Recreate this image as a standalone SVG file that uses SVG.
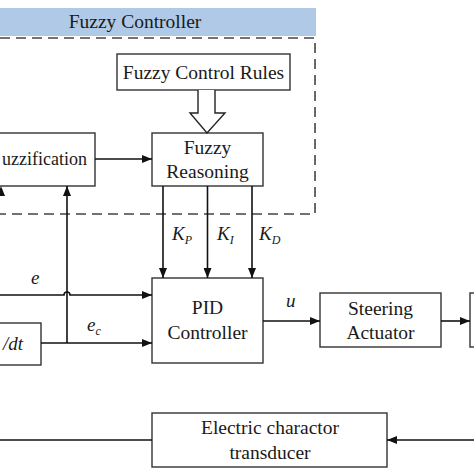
<svg xmlns="http://www.w3.org/2000/svg" width="474" height="474" viewBox="0 0 474 474">
<defs>
<style>
.box{fill:#fff;stroke:#333;stroke-width:1.4}
.ln{fill:none;stroke:#111;stroke-width:1.6}
.t{font-size:19.5px;fill:#1a1a1a;text-anchor:middle}
.it{font-style:italic;font-size:19px;fill:#1a1a1a}
.sub{font-size:12px}
.dash{fill:none;stroke:#444;stroke-width:1.6;stroke-dasharray:10 6}
</style>
<marker id="ah" markerWidth="10" markerHeight="8" refX="10" refY="4" orient="auto" markerUnits="userSpaceOnUse">
<path d="M0,0 L10,4 L0,8 Z" fill="#111"/>
</marker>
</defs>
<rect width="474" height="474" fill="#fff"/>
<g font-family="'Liberation Serif', 'Times New Roman', 'DejaVu Serif', serif">
<g id="fuzzy-controller">
<rect x="-1" y="8" width="317" height="28" fill="#afc9e6"/>
<text class="t" x="135" y="28">Fuzzy Controller</text>
<path class="dash" d="M0,38 H315 V214 H0"/>
</g>
<g id="rules">
<rect class="box" x="117" y="54" width="173" height="36"/>
<text class="t" x="203.5" y="79">Fuzzy Control Rules</text>
</g>
<g id="fuzzification">
<rect class="box" x="-5" y="133" width="100" height="53"/>
<text class="t" x="2" y="165" style="text-anchor:start;font-size:18px">uzzification</text>
</g>
<g id="reasoning">
<rect class="box" x="152" y="133" width="111" height="53"/>
<text class="t" x="207.5" y="154">Fuzzy</text>
<text class="t" x="207.5" y="178">Reasoning</text>
</g>
<g id="pid">
<rect class="box" x="152" y="278" width="111" height="85"/>
<text class="t" x="207.5" y="314">PID</text>
<text class="t" x="207.5" y="339">Controller</text>
</g>
<g id="ddt">
<rect class="box" x="-5" y="323" width="46" height="42"/>
<text class="it" x="3" y="350">/dt</text>
</g>
<g id="steering">
<rect class="box" x="320" y="293" width="121" height="54"/>
<text class="t" x="380.5" y="315">Steering</text>
<text class="t" x="380.5" y="339">Actuator</text>
</g>
<g id="vehicle">
<rect class="box" x="470" y="293" width="20" height="54"/>
</g>
<g id="transducer">
<rect class="box" x="152" y="413" width="235" height="54"/>
<text class="t" x="270" y="434">Electric charactor</text>
<text class="t" x="270" y="459">transducer</text>
</g>
<g id="connectors">
<path d="M198,90 V113 H190 L207,133 L225,113 H215 V90" fill="#fff" stroke="#222" stroke-width="1.4"/>
<path class="ln" d="M95,159 H152" marker-end="url(#ah)"/>
<path class="ln" d="M67,343 V186" marker-end="url(#ah)"/>
<path d="M-3,196 L1,186 L5,196 Z" fill="#111"/>
<path class="ln" d="M163,186 V278" marker-end="url(#ah)"/>
<path class="ln" d="M207.5,186 V278" marker-end="url(#ah)"/>
<path class="ln" d="M252,186 V278" marker-end="url(#ah)"/>
<path class="ln" d="M0,295 H64 a3,3 0 0 1 6,0 H152" marker-end="url(#ah)"/>
<path class="ln" d="M41,343 H152" marker-end="url(#ah)"/>
<path class="ln" d="M263,321 H320" marker-end="url(#ah)"/>
<path class="ln" d="M441,321 H470" marker-end="url(#ah)"/>
<path class="ln" d="M474,440 H387" marker-end="url(#ah)"/>
<path class="ln" d="M152,440 H0"/>
<text class="it" x="172" y="240">K<tspan class="sub" dy="4">P</tspan></text>
<text class="it" x="217" y="240">K<tspan class="sub" dy="4">I</tspan></text>
<text class="it" x="259" y="240">K<tspan class="sub" dy="4">D</tspan></text>
<text class="it" x="31" y="284">e</text>
<text class="it" x="87" y="331">e<tspan class="sub" dy="4">c</tspan></text>
<text class="it" x="286" y="307">u</text>
</g>
</g>
</svg>
